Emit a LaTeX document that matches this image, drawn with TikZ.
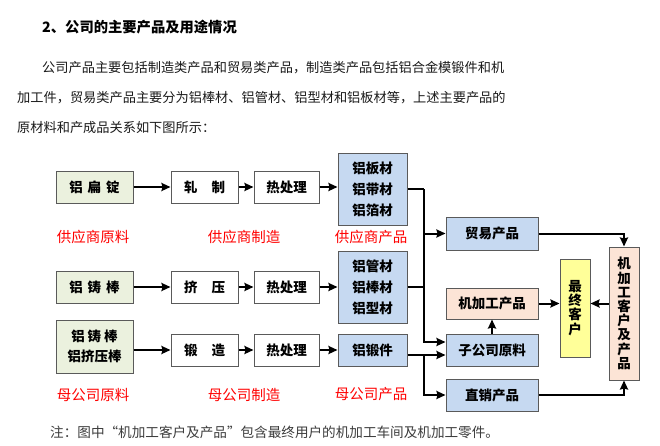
\documentclass[tikz,border=0pt]{standalone}
\usepackage{fontspec}
\setmainfont{Noto Sans CJK SC}
\usetikzlibrary{arrows.meta}
\definecolor{gfill}{HTML}{EBF1DE}
\definecolor{bfill}{HTML}{C6D9F1}
\definecolor{pfill}{HTML}{FCE4D6}
\definecolor{yfill}{HTML}{FFFF99}
\definecolor{bline}{HTML}{5A5A5A}
\definecolor{txt}{HTML}{1A1A1A}
\begin{document}
\begin{tikzpicture}[x=1pt,y=-1pt,
  box/.style={draw=bline, line width=1pt, inner sep=0pt, text=black,
    font=\bfseries\fontsize{13.5}{17}\selectfont, align=center},
  vbox/.style={box, font=\bfseries\fontsize{13.5}{14.2}\selectfont},
  arr/.style={line width=2pt, -{Stealth[length=9pt,width=8pt,inset=1pt]}},
  ln/.style={line width=2pt},
  redlab/.style={text=red, inner sep=0pt, font=\fontsize{14.5}{16}\selectfont},
  para/.style={anchor=west, inner sep=0pt, text=txt, font=\fontsize{13.2}{15}\selectfont},
]
\useasboundingbox (0,0) rectangle (660,445);
\fill[white] (0,0) rectangle (660,445);

% heading and paragraph
\node[anchor=west, inner sep=0pt, font=\bfseries\fontsize{14.3}{16}\selectfont] (title) at (42,27) {2、公司的主要产品及用途情况};
\node[para] (l1) at (42,68) {公司产品主要包括制造类产品和贸易类产品，制造类产品包括铝合金模锻件和机};
\node[para] (l2) at (17,98) {加工件，贸易类产品主要分为铝棒材、铝管材、铝型材和铝板材等，上述主要产品的};
\node[para] (l3) at (17,128) {原材料和产成品关系如下图所示：};

% row 1
\node[box, fill=gfill, minimum width=77pt, minimum height=32pt] (yb) at (94.5,187) {铝\hspace{5pt}扁\hspace{5pt}锭};
\node[box, fill=white, minimum width=67pt, minimum height=32pt] (zz) at (204.5,187) {轧\hspace{14pt}制};
\node[box, fill=white, minimum width=65pt, minimum height=32pt] (rc1) at (286.5,187) {热处理};
\node[box, fill=bfill, minimum width=69pt, minimum height=72pt, font=\bfseries\fontsize{13.5}{21}\selectfont] (p1) at (372.5,189) {铝板材\\铝带材\\铝箔材};

% row 2
\node[box, fill=gfill, minimum width=77pt, minimum height=32pt] (zb) at (94.5,287) {铝\hspace{5pt}铸\hspace{5pt}棒};
\node[box, fill=white, minimum width=67pt, minimum height=32pt] (jy) at (204.5,287) {挤\hspace{14pt}压};
\node[box, fill=white, minimum width=65pt, minimum height=32pt] (rc2) at (286.5,287) {热处理};
\node[box, fill=bfill, minimum width=69pt, minimum height=72pt, font=\bfseries\fontsize{13.5}{21}\selectfont] (p2) at (372.5,287) {铝管材\\铝棒材\\铝型材};

% row 3
\node[box, fill=gfill, minimum width=77pt, minimum height=53pt, font=\bfseries\fontsize{13.5}{20}\selectfont] (zb2) at (94.5,346.5) {铝\hspace{3pt}铸\hspace{3pt}棒\\铝挤压棒};
\node[box, fill=white, minimum width=67pt, minimum height=32pt] (dz) at (204.5,350) {锻\hspace{14pt}造};
\node[box, fill=white, minimum width=65pt, minimum height=32pt] (rc3) at (286.5,350) {热处理};
\node[box, fill=bfill, minimum width=69pt, minimum height=32pt] (dj) at (372.5,350) {铝锻件};

% right column
\node[box, fill=bfill, minimum width=92pt, minimum height=33pt] (my) at (492,233.5) {贸易产品};
\node[box, fill=pfill, minimum width=92pt, minimum height=31pt] (jg) at (492,303.5) {机加工产品};
\node[box, fill=bfill, minimum width=92pt, minimum height=32pt] (zg) at (492,350) {子公司原料};
\node[box, fill=bfill, minimum width=92pt, minimum height=32pt] (zx) at (492,395) {直销产品};
\node[vbox, fill=yfill, minimum width=30pt, minimum height=98pt] (zk) at (575,308) {最\\终\\客\\户};
\node[vbox, fill=pfill, minimum width=30pt, minimum height=133pt] (jk) at (624,313.5) {机\\加\\工\\客\\户\\及\\产\\品};

% red labels
\node[redlab] (s1) at (93,237) {供应商原料};
\node[redlab] (s2) at (244,237) {供应商制造};
\node[redlab] (s3) at (371,237) {供应商产品};
\node[redlab] (m1) at (93,395) {母公司原料};
\node[redlab] (m2) at (244,395) {母公司制造};
\node[redlab] (m3) at (371,394) {母公司产品};

% footnote
\node[anchor=west, inner sep=0pt, text=txt!85, font=\fontsize{13.6}{15}\selectfont] (note) at (50,432) {注：图中“机加工客户及产品”包含最终用户的机加工车间及机加工零件。};

% connectors: process chains
\draw[arr] (yb) -- (zz);
\draw[arr] (zz) -- (rc1);
\draw[arr] (rc1.east) -- (rc1.east -| p1.west);
\draw[arr] (zb) -- (jy);
\draw[arr] (jy) -- (rc2);
\draw[arr] (rc2) -- (p2);
\draw[arr] (zb2.east |- dz.west) -- (dz.west);
\draw[arr] (dz) -- (rc3);
\draw[arr] (rc3) -- (dj);

% bus
\coordinate (bus) at (424,0);
\draw[ln] (p1.east) -- (bus |- p1.east);
\draw[arr] (bus |- p1.east) -- ([yshift=8pt]bus |- zg.west) -- ([yshift=8pt]zg.west);
\draw[arr] (bus |- my.west) -- (my.west);
\draw[ln] (p2.east) -- (bus |- p2.east);
\draw[arr] ([yshift=-5pt]dj.east) -- ([yshift=-5pt]zg.west);
\draw[arr] ([yshift=-5pt]bus |- dj.east) -- (bus |- zx.west) -- (zx.west);

% right side
\draw[arr] (zg) -- (jg);
\draw[arr] (jg.east) -- (jg.east -| zk.west);
\draw[arr] (jg.east -| jk.west) -- (jg.east -| zk.east);
\draw[arr] (my.east) -| (jk.north);
\draw[arr] (zx.east) -| (jk.south);
\end{tikzpicture}
\end{document}
